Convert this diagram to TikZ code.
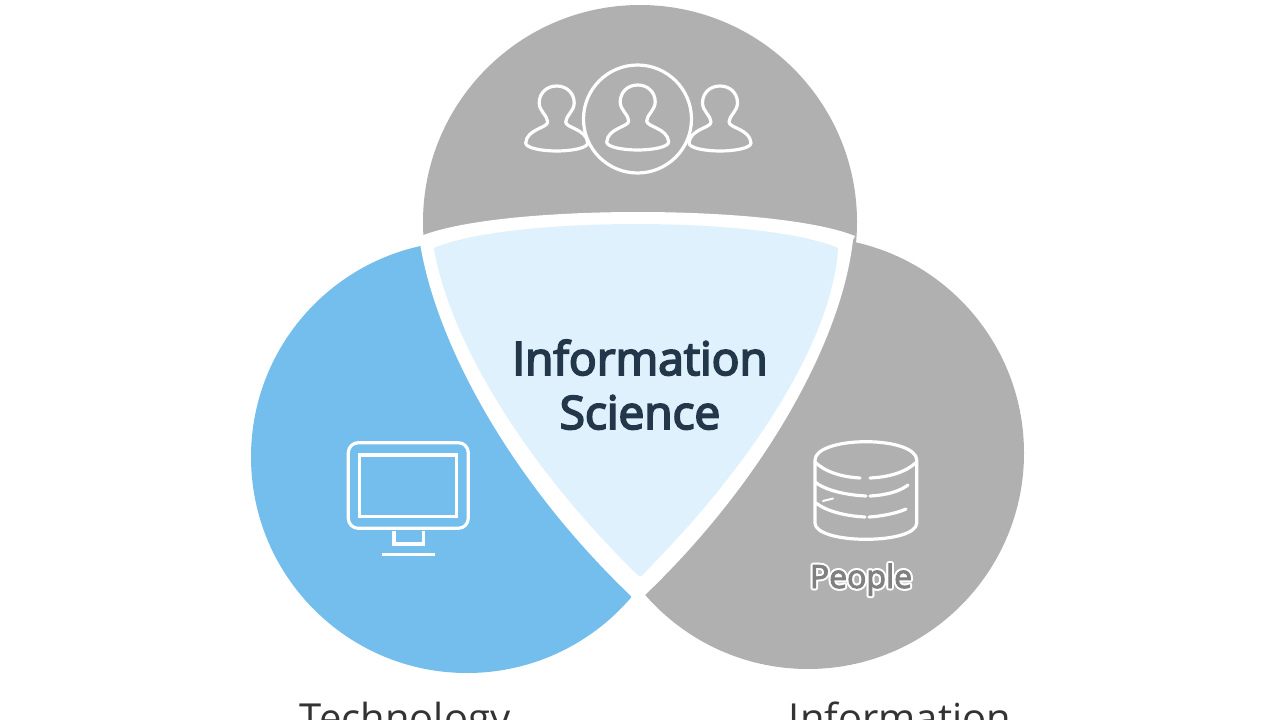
\documentclass[tikz,border=0pt]{standalone}
\usepackage{fontspec}
\usetikzlibrary{calc}
\setmainfont{Open Sans}
\newfontfamily\titlefont[FakeBold=4]{Open Sans}
\newfontfamily\peoplefont[FakeBold=3]{Open Sans}
\definecolor{venngray}{HTML}{B0B0B0}
\definecolor{vennblue}{HTML}{73BEEC}
\definecolor{vennlight}{HTML}{DFF1FC}
\definecolor{titleink}{HTML}{22384A}
\definecolor{labelink}{HTML}{333333}
\definecolor{peopleink}{HTML}{808080}
\tikzset{
  iconline/.style={draw=white,line width=3.2pt,line join=round,line cap=round},
  biglabel/.style={anchor=base,text=labelink,font=\fontsize{40}{48}\selectfont,inner sep=0pt},
  titlelabel/.style={anchor=base,text=titleink,font=\titlefont\fontsize{46}{54}\selectfont,inner sep=0pt},
  peoplelabel/.style={anchor=base,inner sep=0pt,font=\peoplefont\fontsize{32}{36}\selectfont},
  personicon/.pic={
    \draw[iconline] (0,0) .. controls (10,0) and (17.5,7) .. (17.5,17)
      .. controls (17.5,25) and (9,30) .. (9,36)
      .. controls (9,42) and (30,43) .. (31,57)
      .. controls (31,62) and (15,65) .. (0,65)
      .. controls (-15,65) and (-31,62) .. (-31,57)
      .. controls (-30,43) and (-9,42) .. (-9,36)
      .. controls (-9,30) and (-17.5,25) .. (-17.5,17)
      .. controls (-17.5,7) and (-10,0) .. (0,0) -- cycle;
  }
}
\begin{document}
\begin{tikzpicture}[x=1pt,y=-1pt]
\useasboundingbox (0,0) rectangle (1280,720);
\clip (0,0) rectangle (1280,720);
\fill[white] (0,0) rectangle (1280,720);
% circles
\fill[venngray] (640,222) circle[radius=217pt];
\fill[vennblue] (467,457) circle[radius=216pt];
\fill[venngray] (808,453) circle[radius=216pt];
% white band
\fill[white] (421,236) .. controls (500,204) and (776,204) .. (855,236)
  -- (853,240) .. controls (842,340) and (765,480) .. (645,595)
  -- (637,604) -- (630,595)
  .. controls (510,480) and (436,343) .. (420,243) -- cycle;
% light centre
\filldraw[fill=vennlight,draw=vennlight,line width=3pt,line join=round]
  (435.5,249) .. controls (510,217.7) and (762,217.7) .. (836.5,249)
  .. controls (830.5,340) and (750.5,465) .. (640,575)
  .. controls (526.5,465) and (451.5,340) .. (435.5,249) -- cycle;
% people icon
\draw[iconline] (637.5,119) circle[radius=54pt];
\pic at (556.7,86) {personicon};
\pic at (637.7,85) {personicon};
\pic at (720,86) {personicon};
% monitor icon
\draw[iconline,rounded corners=10pt] (348.3,442.7) rectangle (468.3,528.3);
\draw[iconline,line cap=butt,line join=miter] (359.3,455) rectangle (456.7,516.7);
\draw[iconline,line cap=butt,line join=miter] (394,531) -- (394,544) -- (423.3,544) -- (423.3,531);
\draw[iconline,line width=3.5pt,line cap=butt] (381.7,554.3) -- (435,554.3);
% database icon
\draw[iconline] (815,460) .. controls (815,449) and (838,441.7) .. (866,441.7)
  .. controls (894,441.7) and (916.7,449) .. (916.7,460)
  -- (916.7,523) .. controls (916.7,533) and (894,539.3) .. (866,539.3)
  .. controls (838,539.3) and (815,533) .. (815,523) -- cycle;
\draw[iconline] (815,462) .. controls (825,472) and (842,477) .. (860,478);
\draw[iconline] (870,478) .. controls (890,477) and (906,472) .. (916.7,462);
\draw[iconline] (815,482) .. controls (825,490) and (845,495) .. (866,496);
\draw[iconline] (870,496) .. controls (888,495) and (900,491) .. (908,485);
\draw[iconline] (816,503) .. controls (826,511) and (845,516) .. (865,517);
\draw[iconline] (869,517) .. controls (885,516) and (900,512) .. (906,509);
\draw[iconline,line width=2pt] (823,501) -- (833,498.5);
% texts
\node[titlelabel] (title1) at (640,375) {Information};
\node[titlelabel] (title2) at (640,429) {Science};
\foreach \a in {0,30,...,330}
  \node[peoplelabel,text=white] at ($(861,588)+(\a:2pt)$) {People};
\node[peoplelabel,text=peopleink] (people) at (861,588) {People};
\node[biglabel] (tech) at (405,732) {Technology};
\node[biglabel] (info) at (900,732) {Information};
\end{tikzpicture}
\end{document}
